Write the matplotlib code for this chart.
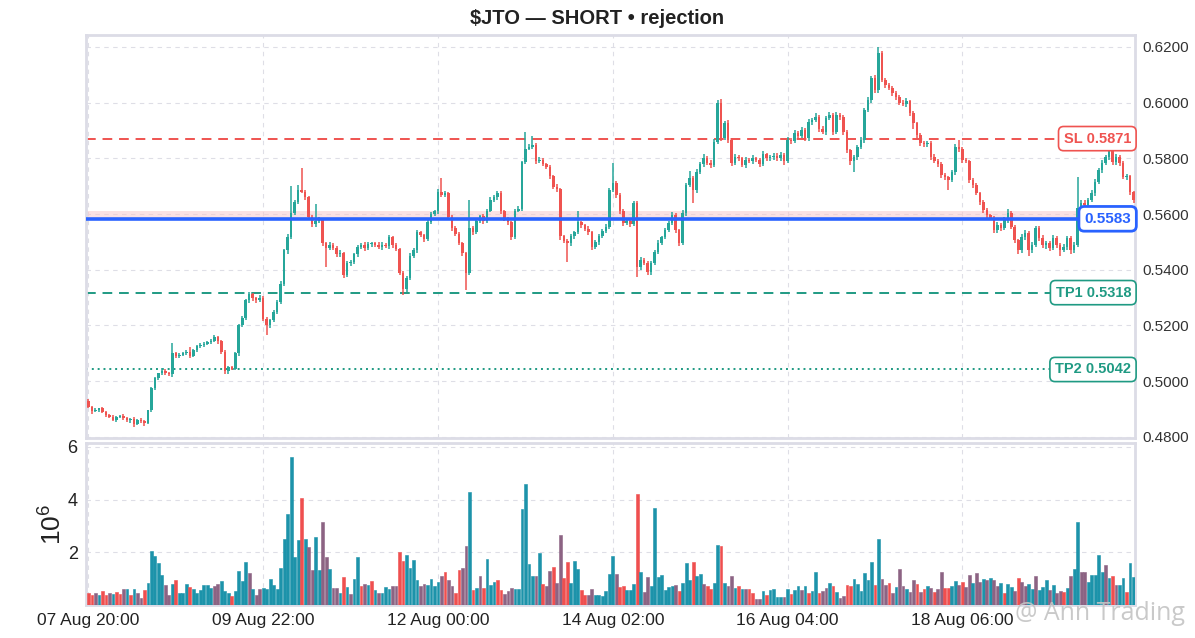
import matplotlib
matplotlib.use("Agg")
import matplotlib.pyplot as plt
import matplotlib.transforms as mtransforms
import numpy as np

plt.rcParams["font.family"] = ["Liberation Sans", "DejaVu Sans"]
plt.rcParams["mathtext.fontset"] = "custom"
plt.rcParams["mathtext.rm"] = "Liberation Sans"
plt.rcParams["mathtext.it"] = "Liberation Sans"

# ---------------- data (prices in 1e-4 units, volume in millions) ----------------
title = "\\$JTO — SHORT • rejection"
open0 = 4930
closes = [
    4908, 4893, 4898, 4902, 4890, 4880, 4872, 4862, 4872, 4876, 4868, 4860, 4865, 4848, 4862, 4857, 4850, 4895, 4975, 5010,
    5028, 5038, 5030, 5025, 5100, 5090, 5095, 5100, 5105, 5092, 5112, 5125, 5130, 5135, 5140, 5145, 5158, 5145, 5105, 5035,
    5050, 5045, 5100, 5200, 5228, 5290, 5312, 5298, 5290, 5300, 5225, 5200, 5220, 5250, 5285, 5350, 5470, 5518, 5604, 5644,
    5687, 5680, 5660, 5590, 5565, 5575, 5580, 5496, 5480, 5488, 5478, 5455, 5460, 5382, 5425, 5428, 5455, 5482, 5490, 5478,
    5492, 5495, 5488, 5482, 5490, 5484, 5518, 5490, 5475, 5390, 5330, 5370, 5450, 5470, 5535, 5525, 5510, 5570, 5600, 5610,
    5680, 5670, 5675, 5590, 5550, 5530, 5496, 5460, 5390, 5550, 5535, 5575, 5592, 5575, 5612, 5650, 5662, 5676, 5610, 5585,
    5570, 5518, 5612, 5620, 5787, 5835, 5840, 5848, 5790, 5795, 5780, 5770, 5735, 5698, 5690, 5520, 5505, 5495, 5520, 5535,
    5570, 5560, 5548, 5535, 5482, 5500, 5520, 5540, 5555, 5687, 5712, 5669, 5610, 5568, 5575, 5565, 5640, 5410, 5435, 5425,
    5392, 5425, 5464, 5496, 5518, 5543, 5568, 5597, 5543, 5496, 5604, 5704, 5730, 5687, 5752, 5780, 5802, 5784, 5777, 5860,
    6000, 5873, 5927, 5866, 5784, 5805, 5800, 5777, 5795, 5790, 5800, 5795, 5780, 5815, 5800, 5805, 5810, 5800, 5812, 5790,
    5866, 5862, 5891, 5880, 5902, 5872, 5931, 5938, 5949, 5905, 5895, 5945, 5956, 5895, 5955, 5948, 5895, 5830, 5790, 5805,
    5841, 5866, 5974, 6010, 6089, 6046, 6178, 6082, 6064, 6053, 6035, 6021, 6000, 5995, 6005, 5963, 5927, 5884, 5855, 5850,
    5856, 5805, 5792, 5780, 5740, 5733, 5722, 5750, 5841, 5832, 5794, 5790, 5722, 5704, 5676, 5644, 5615, 5597, 5586, 5543,
    5561, 5550, 5579, 5604, 5554, 5507, 5471, 5518, 5532, 5471, 5490, 5550, 5514, 5489, 5496, 5478, 5514, 5489, 5471, 5482,
    5514, 5471, 5489, 5622, 5640, 5633, 5651, 5676, 5715, 5758, 5784, 5805, 5837, 5787, 5805, 5784, 5733, 5735, 5679, 5651,
]
wick_up = [
    5, 4, 6, 3, 5, 4, 3, 6, 4, 3, 5, 3, 4, 6, 3, 5, 4, 3, 5, 4,
    3, 8, 6, 4, 37, 5, 6, 4, 8, 18, 5, 4, 6, 5, 4, 6, 8, 5, 4, 6,
    5, 6, 4, 7, 5, 6, 8, 6, 5, 10, 6, 4, 5, 6, 5, 8, 6, 10, 96, 8,
    18, 79, 8, 6, 5, 60, 10, 6, 5, 12, 8, 6, 10, 5, 8, 6, 5, 8, 6, 10,
    8, 6, 5, 10, 8, 6, 7, 5, 6, 5, 5, 6, 10, 8, 8, 6, 5, 10, 8, 5,
    10, 50, 8, 6, 5, 8, 6, 5, 5, 100, 8, 10, 6, 8, 6, 10, 8, 8, 6, 5,
    5, 6, 8, 10, 5, 60, 10, 32, 8, 10, 6, 5, 8, 6, 10, 5, 6, 5, 8, 6,
    40, 6, 5, 8, 5, 6, 8, 6, 8, 5, 72, 6, 5, 8, 6, 10, 6, 8, 10, 8,
    5, 8, 6, 10, 5, 8, 6, 10, 8, 5, 10, 8, 25, 6, 10, 8, 12, 6, 10, 8,
    10, 12, 8, 10, 6, 10, 8, 6, 10, 8, 12, 6, 8, 10, 6, 8, 10, 8, 10, 8,
    10, 8, 12, 8, 10, 8, 12, 8, 15, 8, 10, 8, 10, 8, 12, 8, 6, 8, 5, 8,
    8, 10, 8, 12, 6, 10, 22, 8, 6, 5, 8, 6, 5, 8, 10, 6, 8, 5, 6, 8,
    8, 6, 10, 5, 8, 6, 5, 8, 10, 25, 8, 6, 5, 8, 6, 5, 8, 6, 5, 8,
    10, 8, 12, 15, 8, 6, 5, 10, 12, 8, 10, 8, 6, 10, 8, 6, 10, 8, 6, 10,
    8, 6, 10, 111, 10, 12, 8, 10, 12, 8, 10, 8, 29, 8, 10, 8, 6, 8, 6, 5,
]
wick_dn = [
    6, 12, 5, 8, 6, 10, 5, 6, 8, 5, 6, 8, 10, 13, 6, 8, 10, 5, 6, 8,
    5, 6, 8, 5, 10, 6, 8, 5, 6, 8, 5, 6, 5, 8, 5, 6, 5, 10, 8, 10,
    8, 6, 5, 8, 6, 10, 8, 10, 8, 6, 10, 34, 8, 6, 10, 8, 10, 12, 8, 6,
    8, 6, 10, 8, 12, 10, 6, 10, 70, 8, 6, 10, 8, 12, 8, 10, 6, 8, 6, 10,
    8, 10, 6, 8, 10, 6, 8, 10, 8, 10, 20, 8, 6, 8, 10, 8, 10, 8, 6, 8,
    10, 8, 10, 8, 10, 8, 6, 10, 62, 8, 10, 8, 6, 10, 8, 6, 8, 10, 8, 10,
    8, 10, 8, 6, 10, 8, 6, 8, 10, 8, 6, 8, 10, 8, 10, 12, 10, 67, 8, 10,
    8, 10, 8, 10, 12, 8, 10, 6, 8, 10, 8, 10, 8, 10, 8, 10, 8, 35, 10, 8,
    12, 10, 8, 6, 8, 6, 8, 6, 10, 12, 8, 10, 8, 47, 10, 8, 10, 8, 10, 8,
    8, 10, 8, 10, 12, 8, 10, 8, 10, 8, 10, 8, 10, 8, 10, 8, 10, 8, 10, 12,
    8, 10, 8, 10, 8, 10, 8, 10, 8, 10, 8, 10, 8, 10, 8, 10, 12, 10, 14, 39,
    10, 8, 10, 8, 10, 12, 10, 8, 10, 8, 10, 12, 10, 8, 10, 12, 20, 10, 12, 8,
    10, 12, 8, 10, 12, 10, 35, 8, 10, 8, 10, 8, 12, 10, 8, 10, 12, 10, 8, 12,
    10, 12, 8, 10, 8, 12, 15, 10, 12, 20, 10, 8, 12, 10, 14, 10, 8, 12, 20, 8,
    10, 14, 12, 8, 10, 12, 10, 8, 10, 8, 10, 8, 10, 12, 10, 12, 8, 10, 12, 10,
]
volume = [
    0.44, 0.37, 0.46, 0.37, 0.52, 0.37, 0.44, 0.40, 0.50, 0.41, 0.59, 0.61, 0.37, 0.62, 0.46, 0.27, 0.56, 0.84, 2.06, 1.87,
    1.59, 1.12, 0.75, 0.37, 0.81, 0.94, 0.44, 0.46, 0.80, 0.67, 0.61, 0.46, 0.56, 0.75, 0.75, 0.65, 0.71, 0.81, 0.91, 0.54,
    0.47, 0.34, 0.54, 1.29, 0.91, 1.62, 1.21, 0.60, 0.37, 0.60, 0.66, 0.60, 0.97, 0.75, 0.59, 1.40, 2.52, 3.46, 5.62, 1.81,
    2.47, 4.06, 2.52, 2.19, 1.31, 2.60, 1.31, 3.16, 1.81, 1.35, 0.65, 0.65, 0.44, 1.06, 0.69, 0.41, 1.00, 1.81, 0.71, 0.80,
    0.75, 0.91, 0.56, 0.46, 0.46, 0.69, 0.62, 0.74, 0.71, 2.02, 1.66, 1.89, 1.40, 1.72, 0.94, 0.71, 0.80, 0.77, 0.99, 0.72,
    0.86, 1.09, 1.25, 0.94, 0.71, 0.47, 1.31, 1.40, 2.25, 4.28, 0.56, 0.65, 1.09, 0.65, 1.75, 0.75, 0.87, 0.94, 0.56, 0.40,
    0.54, 0.66, 0.59, 0.60, 3.65, 4.59, 1.56, 1.09, 1.09, 1.96, 0.80, 0.72, 1.29, 1.44, 0.85, 2.66, 1.02, 1.62, 0.85, 1.66,
    1.36, 0.56, 0.37, 0.37, 0.61, 0.37, 0.37, 0.35, 0.54, 1.19, 1.85, 1.19, 0.69, 0.71, 0.56, 0.56, 0.79, 4.21, 1.27, 0.50,
    1.06, 0.71, 3.69, 1.06, 1.12, 0.56, 0.69, 0.71, 0.75, 0.52, 0.85, 1.59, 0.94, 1.65, 1.10, 1.16, 0.81, 0.71, 0.61, 0.84,
    2.29, 2.25, 0.85, 0.71, 1.09, 0.65, 0.72, 0.62, 0.60, 0.62, 0.44, 0.22, 0.22, 0.54, 0.37, 0.56, 0.60, 0.31, 0.31, 0.31,
    0.60, 0.40, 0.56, 0.71, 0.56, 0.71, 0.46, 0.52, 1.24, 0.46, 0.54, 0.66, 0.84, 0.71, 0.49, 0.25, 0.34, 0.75, 0.71, 0.99,
    0.81, 0.52, 1.21, 0.96, 1.65, 0.75, 2.49, 0.97, 0.75, 0.85, 0.46, 0.69, 1.35, 0.71, 0.60, 0.50, 0.94, 0.79, 0.50, 0.59,
    0.71, 0.66, 0.50, 0.62, 1.27, 0.66, 0.66, 0.71, 0.90, 0.77, 0.86, 0.69, 1.12, 0.84, 1.22, 0.86, 1.00, 0.96, 1.04, 0.94,
    0.71, 0.84, 0.46, 0.81, 0.69, 0.52, 1.02, 0.87, 0.71, 0.81, 0.61, 1.10, 0.56, 0.69, 0.94, 0.56, 0.75, 0.46, 0.52, 0.50,
    0.65, 1.09, 1.35, 3.15, 1.24, 1.24, 0.86, 1.12, 1.12, 1.91, 1.25, 1.50, 1.02, 1.09, 0.75, 0.75, 1.02, 0.49, 1.60, 1.06,
]
vol_colors = [
    "rrptrrptrrptrtpprttt",
    "ttpptrtttrttttttpptt",
    "trttttptpptttttttttt",
    "trtppttpptpptrtpttrp",
    "trtptttpprrttttppttt",
    "tprpprrpptrtprtttrrp",
    "ppttttttptrpprpprrtt",
    "trrppttttttprrtttrtp",
    "ptttttttprtttrttprrt",
    "trtpptrtprrpptrttttp",
    "trttptrttrpptrtpprrt",
    "tttttrtpprptpptpprpr",
    "tprpprrttprpptpptptp",
    "ptrttprppttptttptppr",
    "tpttpptttttptrpttrtt",
]
tick_idx = [0, 50, 100, 150, 200, 250]
tick_labels = ["07 Aug 20:00", "09 Aug 22:00", "12 Aug 00:00", "14 Aug 02:00", "16 Aug 04:00", "18 Aug 06:00"]
price_ticks = [0.48, 0.50, 0.52, 0.54, 0.56, 0.58, 0.60, 0.62]
vol_ticks = [2, 4, 6]
sl_price = 0.5871
entry_price = 0.5583
entry_zone_top = 0.5610
tp1_price = 0.5318
tp2_price = 0.5042

# ---------------- derived ----------------
c = np.array(closes) / 1e4
o = np.concatenate([[open0 / 1e4], c[:-1]])
h = np.maximum(o, c) + np.array(wick_up) / 1e4
lo = np.minimum(o, c) - np.array(wick_dn) / 1e4
x = np.arange(len(c))
up = c >= o

UP = "#26a69a"
DOWN = "#ef5350"
BLUE = "#2962ff"
TEAL = "#1f9a83"
cmap = {"r": "#ef4f4f", "p": "#8c6383", "t": "#1c93aa"}
vcols = [cmap[ch] for ch in "".join(vol_colors)[:len(volume)]]

W, H = 1195, 638
fig = plt.figure(figsize=(W / 100, H / 100), dpi=100)
fig.patch.set_facecolor("white")
L, R = 86, 1135
ax = fig.add_axes([L / W, 1 - 438 / H, (R - L) / W, (438 - 35) / H])
axv = fig.add_axes([L / W, 1 - 605 / H, (R - L) / W, (605 - 443) / H], sharex=ax)

grid_kw = dict(color="#dedee6", linestyle=(0, (4, 4)), linewidth=0.8)
for a in (ax, axv):
    a.set_facecolor("white")
    for s in a.spines.values():
        s.set_color("#dcdce6")
        s.set_linewidth(2)
    a.grid(True, **grid_kw)
    a.set_axisbelow(True)

# candles
ax.vlines(x, lo, h, colors=np.where(up, UP, DOWN), linewidth=1.1, zorder=3)
body_h = np.maximum(np.abs(c - o), 0.0003)
ax.bar(x, body_h, bottom=np.minimum(o, c), width=0.72,
       color=np.where(up, UP, DOWN), edgecolor="none", zorder=4)

# levels
ax.axhspan(entry_price, entry_zone_top, color="#f6c9cc", alpha=0.55, zorder=1, lw=0)
ax.axhline(sl_price, color=DOWN, lw=1.4, ls=(0, (5, 3.5)), zorder=2)
ax.axhline(entry_price, color=BLUE, lw=2.6, zorder=5)
ax.axhline(tp1_price, color=TEAL, lw=1.4, ls=(0, (5, 3.5)), zorder=2)
ax.axhline(tp2_price, color=TEAL, lw=1.4, ls=(0, (1, 2)), zorder=2)

trans = mtransforms.blended_transform_factory(ax.transAxes, ax.transData)
xr = (1131 - L) / (R - L)


def tag(y, txt, col, lw=1.2, fs=10.5):
    ax.text(xr, y, txt, transform=trans, ha="right", va="center", fontsize=fs,
            fontweight="bold", color=col, zorder=10, clip_on=False,
            bbox=dict(boxstyle="round,pad=0.35,rounding_size=0.35", fc="white", ec=col, lw=lw))


tag(sl_price, "SL 0.5871", DOWN)
tag(entry_price, "0.5583", BLUE, lw=2.0, fs=11)
tag(tp1_price, "TP1 0.5318", TEAL)
tag(tp2_price, "TP2 0.5042", TEAL)

ax.set_ylim(0.4796, 0.6243)
ax.set_xlim(-0.7, 299.4)
ax.yaxis.tick_right()
ax.set_yticks(price_ticks)
ax.set_yticklabels([f"{v:.4f}" for v in price_ticks])
ax.tick_params(axis="y", length=0, pad=5, labelsize=11, labelcolor="#333333")
ax.tick_params(axis="x", length=0, labelbottom=False)
ax.set_xticks(tick_idx)

# volume
axv.bar(x, volume, width=0.78, color=vcols, edgecolor=vcols, linewidth=0.4, zorder=3)
axv.set_ylim(0, 6.15)
axv.set_yticks(vol_ticks)
axv.set_yticklabels([str(v) for v in vol_ticks])
axv.tick_params(axis="y", length=0, pad=6, labelsize=13, labelcolor="#222222")
axv.set_ylabel("$10^6$", fontsize=19, color="#222222", labelpad=1)
axv.set_xticks(tick_idx)
axv.set_xticklabels(tick_labels)
axv.tick_params(axis="x", length=0, pad=6, labelsize=12.5, labelcolor="#222222")

fig.text(0.5, 1 - 19 / H, title, ha="center", va="center", fontsize=14.5,
         fontweight="bold", color="#222222")
fig.text(1185 / W, 1 - 613 / H, "@ Ann Trading", ha="right", va="center",
         fontsize=18, color="#c4c4c4", alpha=0.9, family=["Open Sans", "DejaVu Sans"])

fig.savefig("out.png", dpi=100, facecolor="white")
